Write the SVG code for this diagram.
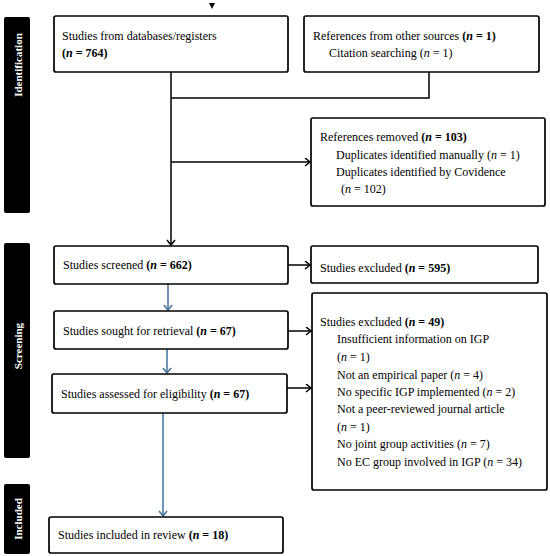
<svg xmlns="http://www.w3.org/2000/svg" width="550" height="556" viewBox="0 0 550 556">
<style>
.box{fill:#fff;stroke:#000;stroke-width:1.7}
.bar{fill:#000}
.t{font-family:"Liberation Serif","Times New Roman",serif;font-size:12px;fill:#000}
.b{font-weight:bold}
.i{font-style:italic}
.bt{font-family:"Liberation Serif","Times New Roman",serif;font-size:11px;font-weight:bold;fill:#fff}
.k{fill:none;stroke:#000;stroke-width:1.5}
.bl{fill:none;stroke:#41719C;stroke-width:1.5}
</style>
<defs>
<marker id="ak" markerUnits="userSpaceOnUse" markerWidth="8" markerHeight="10" refX="6" refY="4.5" orient="auto">
<path d="M1,0.5 L6,4.5 L1,8.5" fill="none" stroke="#000" stroke-width="1.5"/>
</marker>
<marker id="ab" markerUnits="userSpaceOnUse" markerWidth="8" markerHeight="10" refX="6" refY="4.5" orient="auto">
<path d="M1,0.5 L6,4.5 L1,8.5" fill="none" stroke="#41719C" stroke-width="1.5"/>
</marker>
</defs>

<g id="phase-bars">
<rect class="bar" x="4" y="17" width="26" height="196" rx="2"/>
<text class="bt" transform="translate(22,65) rotate(-90)" text-anchor="middle">Identification</text>
<rect class="bar" x="4" y="243" width="26" height="215" rx="2"/>
<text class="bt" transform="translate(22,346) rotate(-90)" text-anchor="middle">Screening</text>
<rect class="bar" x="4" y="484" width="26" height="70" rx="2"/>
<text class="bt" transform="translate(22,519) rotate(-90)" text-anchor="middle">Included</text>
</g>

<polygon points="209,3 215,3 212,9" fill="#000"/>

<g id="connectors">
<line class="k" x1="171" y1="72" x2="171" y2="245" marker-end="url(#ak)"/>
<polyline class="k" points="429,72 429,98 171,98"/>
<line class="k" x1="171" y1="162" x2="310" y2="162" marker-end="url(#ak)"/>
<line class="k" x1="288" y1="265" x2="310" y2="265" marker-end="url(#ak)"/>
<line class="k" x1="288" y1="331" x2="311" y2="331" marker-end="url(#ak)"/>
<line class="k" x1="287" y1="388" x2="311" y2="388" marker-end="url(#ak)"/>
<line class="bl" x1="168" y1="284" x2="168" y2="310" marker-end="url(#ab)"/>
<line class="bl" x1="167" y1="349" x2="167" y2="373" marker-end="url(#ab)"/>
<line class="bl" x1="163" y1="413" x2="163" y2="516" marker-end="url(#ab)"/>
</g>

<g id="databases">
<rect class="box" x="54" y="16" width="234" height="56" rx="2"/>
<text class="t" x="62" y="40">Studies from databases/registers</text>
<text class="t b" x="62" y="57">(<tspan class="i">n</tspan> = 764)</text>
</g>

<g id="other-sources">
<rect class="box" x="304" y="16" width="235" height="56" rx="2"/>
<text class="t" x="313" y="40">References from other sources <tspan class="b">(<tspan class="i">n</tspan> = 1)</tspan></text>
<text class="t" x="329" y="57">Citation searching (<tspan class="i">n</tspan> = 1)</text>
</g>

<g id="removed">
<rect class="box" x="311" y="118" width="234" height="88" rx="2"/>
<text class="t" x="320" y="141">References removed <tspan class="b">(<tspan class="i">n</tspan> = 103)</tspan></text>
<text class="t" x="336" y="159">Duplicates identified manually (<tspan class="i">n</tspan> = 1)</text>
<text class="t" x="336" y="176">Duplicates identified by Covidence</text>
<text class="t" x="341" y="193">(<tspan class="i">n</tspan> = 102)</text>
</g>

<g id="screened">
<rect class="box" x="54" y="246" width="234" height="38" rx="2"/>
<text class="t" x="63" y="269">Studies screened <tspan class="b">(<tspan class="i">n</tspan> = 662)</tspan></text>
</g>

<g id="excluded-595">
<rect class="box" x="311" y="246" width="227" height="37" rx="2"/>
<text class="t" x="320" y="272">Studies excluded <tspan class="b">(<tspan class="i">n</tspan> = 595)</tspan></text>
</g>

<g id="sought">
<rect class="box" x="54" y="311" width="234" height="38" rx="2"/>
<text class="t" x="63" y="335">Studies sought for retrieval <tspan class="b">(<tspan class="i">n</tspan> = 67)</tspan></text>
</g>

<g id="excluded-49">
<rect class="box" x="312" y="293" width="235" height="197" rx="2"/>
<text class="t" x="320" y="326">Studies excluded <tspan class="b">(<tspan class="i">n</tspan> = 49)</tspan></text>
<text class="t" x="337" y="343">Insufficient information on IGP</text>
<text class="t" x="337" y="361">(<tspan class="i">n</tspan> = 1)</text>
<text class="t" x="337" y="379">Not an empirical paper (<tspan class="i">n</tspan> = 4)</text>
<text class="t" x="337" y="396">No specific IGP implemented (<tspan class="i">n</tspan> = 2)</text>
<text class="t" x="337" y="413">Not a peer-reviewed journal article</text>
<text class="t" x="337" y="431">(<tspan class="i">n</tspan> = 1)</text>
<text class="t" x="337" y="448">No joint group activities (<tspan class="i">n</tspan> = 7)</text>
<text class="t" x="337" y="466">No EC group involved in IGP (<tspan class="i">n</tspan> = 34)</text>
</g>

<g id="assessed">
<rect class="box" x="52" y="374" width="235" height="39" rx="2"/>
<text class="t" x="61" y="398">Studies assessed for eligibility <tspan class="b">(<tspan class="i">n</tspan> = 67)</tspan></text>
</g>

<g id="included">
<rect class="box" x="49" y="517" width="234" height="36" rx="2"/>
<text class="t" x="58" y="539">Studies included in review <tspan class="b">(<tspan class="i">n</tspan> = 18)</tspan></text>
</g>
</svg>
